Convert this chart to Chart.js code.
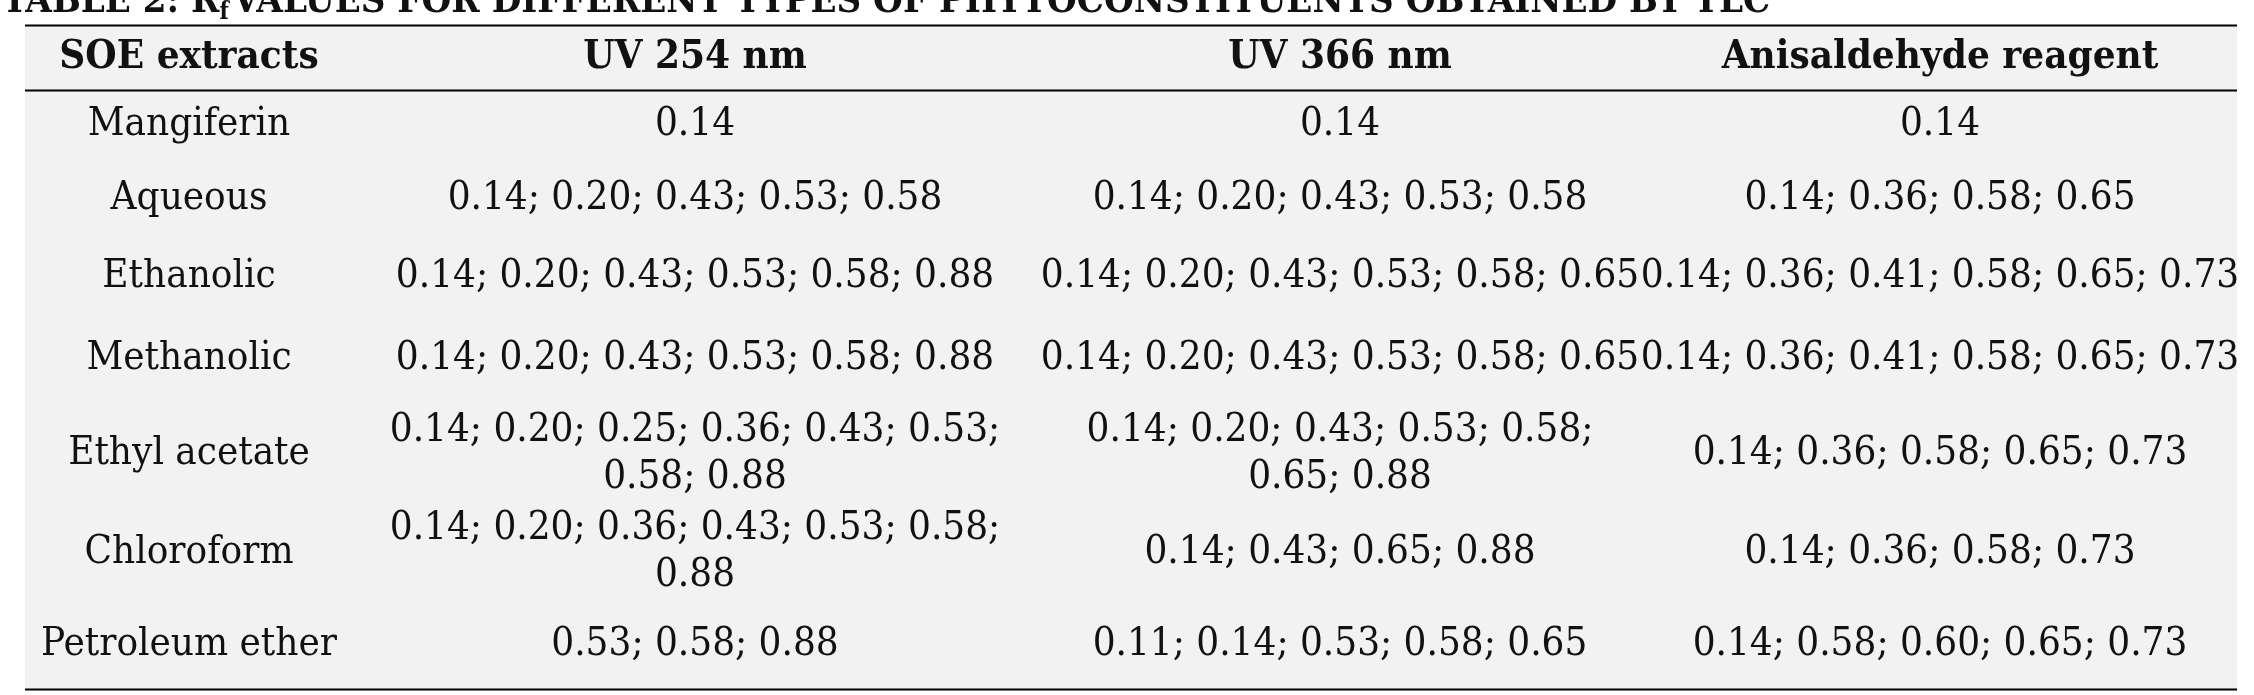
<!DOCTYPE html>
<html>
<head>
<meta charset="utf-8">
<script src="https://cdn.jsdelivr.net/npm/chart.js@4"></script>
<style>
  body { margin: 0; background: #fff; }
  canvas { display: block; }
</style>
</head>
<body>
<canvas id="table" width="2254" height="695"></canvas>
<script>
const columns = ["SOE extracts", "UV 254 nm", "UV 366 nm", "Anisaldehyde reagent"];
const extracts = ["Mangiferin", "Aqueous", "Ethanolic", "Methanolic", "Ethyl acetate", "Chloroform", "Petroleum ether"];
const uv254 = [
  "0.14",
  "0.14; 0.20; 0.43; 0.53; 0.58",
  "0.14; 0.20; 0.43; 0.53; 0.58; 0.88",
  "0.14; 0.20; 0.43; 0.53; 0.58; 0.88",
  "0.14; 0.20; 0.25; 0.36; 0.43; 0.53;\n0.58; 0.88",
  "0.14; 0.20; 0.36; 0.43; 0.53; 0.58;\n0.88",
  "0.53; 0.58; 0.88"
];
const uv366 = [
  "0.14",
  "0.14; 0.20; 0.43; 0.53; 0.58",
  "0.14; 0.20; 0.43; 0.53; 0.58; 0.65",
  "0.14; 0.20; 0.43; 0.53; 0.58; 0.65",
  "0.14; 0.20; 0.43; 0.53; 0.58;\n0.65; 0.88",
  "0.14; 0.43; 0.65; 0.88",
  "0.11; 0.14; 0.53; 0.58; 0.65"
];
const anisaldehyde = [
  "0.14",
  "0.14; 0.36; 0.58; 0.65",
  "0.14; 0.36; 0.41; 0.58; 0.65; 0.73",
  "0.14; 0.36; 0.41; 0.58; 0.65; 0.73",
  "0.14; 0.36; 0.58; 0.65; 0.73",
  "0.14; 0.36; 0.58; 0.73",
  "0.14; 0.58; 0.60; 0.65; 0.73"
];

// layout: column widths and row heights (header first), in scale units
const colWidths = [328, 684, 606, 594];
const rowHeights = [65, 69, 80, 75, 89, 102, 95, 89];

const FONT = "'DejaVu Serif Condensed', 'DejaVu Serif', serif";
const colMid = [], rowMid = [];
let acc = 0;
colWidths.forEach(w => { colMid.push(acc + w / 2); acc += w; });
const totalW = acc;
acc = 0;
rowHeights.forEach(h => { rowMid.push(acc + h / 2); acc += h; });
const totalH = acc;

const body = [extracts, uv254, uv366, anisaldehyde];
const points = [];
columns.forEach((c, ci) => {
  points.push({ x: colMid[ci], y: rowMid[0], text: c, bold: true });
  body[ci].forEach((t, ri) => points.push({ x: colMid[ci], y: rowMid[ri + 1], text: t, bold: false }));
});

const tablePlugin = {
  id: 'tableCells',
  beforeDatasetsDraw(chart) {
    const ctx = chart.ctx, a = chart.chartArea, ys = chart.scales.y;
    ctx.save();
    ctx.fillStyle = '#f2f2f2';
    ctx.fillRect(a.left, a.top, a.right - a.left, a.bottom - a.top);
    ctx.strokeStyle = '#000';
    ctx.lineWidth = 2;
    [0, rowHeights[0], totalH].forEach(v => {
      const y = Math.round(ys.getPixelForValue(v)) + 0.5;
      ctx.beginPath(); ctx.moveTo(a.left, y); ctx.lineTo(a.right, y); ctx.stroke();
    });
    // title, cut off at the top like the source scan
    ctx.fillStyle = '#111';
    ctx.textBaseline = 'alphabetic';
    ctx.textAlign = 'left';
    ctx.font = "bold 38px " + FONT;
    let x = 2;
    ctx.fillText("TABLE 2: R", x, 12);
    x += ctx.measureText("TABLE 2: R").width;
    ctx.font = "bold 24px " + FONT;
    ctx.fillText("f", x, 19);
    x += ctx.measureText("f").width + 4;
    ctx.font = "bold 38px " + FONT;
    ctx.fillText("VALUES FOR DIFFERENT TYPES OF PHYTOCONSTITUENTS OBTAINED BY TLC", x, 12);
    ctx.restore();
  },
  afterDatasetsDraw(chart) {
    const ctx = chart.ctx;
    const meta = chart.getDatasetMeta(0);
    ctx.save();
    ctx.fillStyle = '#111';
    ctx.textAlign = 'center';
    ctx.textBaseline = 'middle';
    meta.data.forEach((el, i) => {
      const p = points[i];
      ctx.font = (p.bold ? 'bold ' : '') + '40px ' + FONT;
      const lines = p.text.split('\n');
      const lh = 47;
      lines.forEach((ln, li) => {
        ctx.fillText(ln, el.x, el.y + (li - (lines.length - 1) / 2) * lh);
      });
    });
    ctx.restore();
  }
};

new Chart(document.getElementById('table'), {
  type: 'scatter',
  data: { datasets: [{ data: points, pointRadius: 0, pointHoverRadius: 0 }] },
  options: {
    responsive: false,
    animation: false,
    devicePixelRatio: 1,
    events: [],
    layout: { padding: { left: 25, right: 17, top: 25, bottom: 6 } },
    plugins: { legend: { display: false }, tooltip: { enabled: false } },
    scales: {
      x: { type: 'linear', min: 0, max: totalW, display: false },
      y: { type: 'linear', min: 0, max: totalH, reverse: true, display: false }
    }
  },
  plugins: [tablePlugin]
});
</script>
</body>
</html>
